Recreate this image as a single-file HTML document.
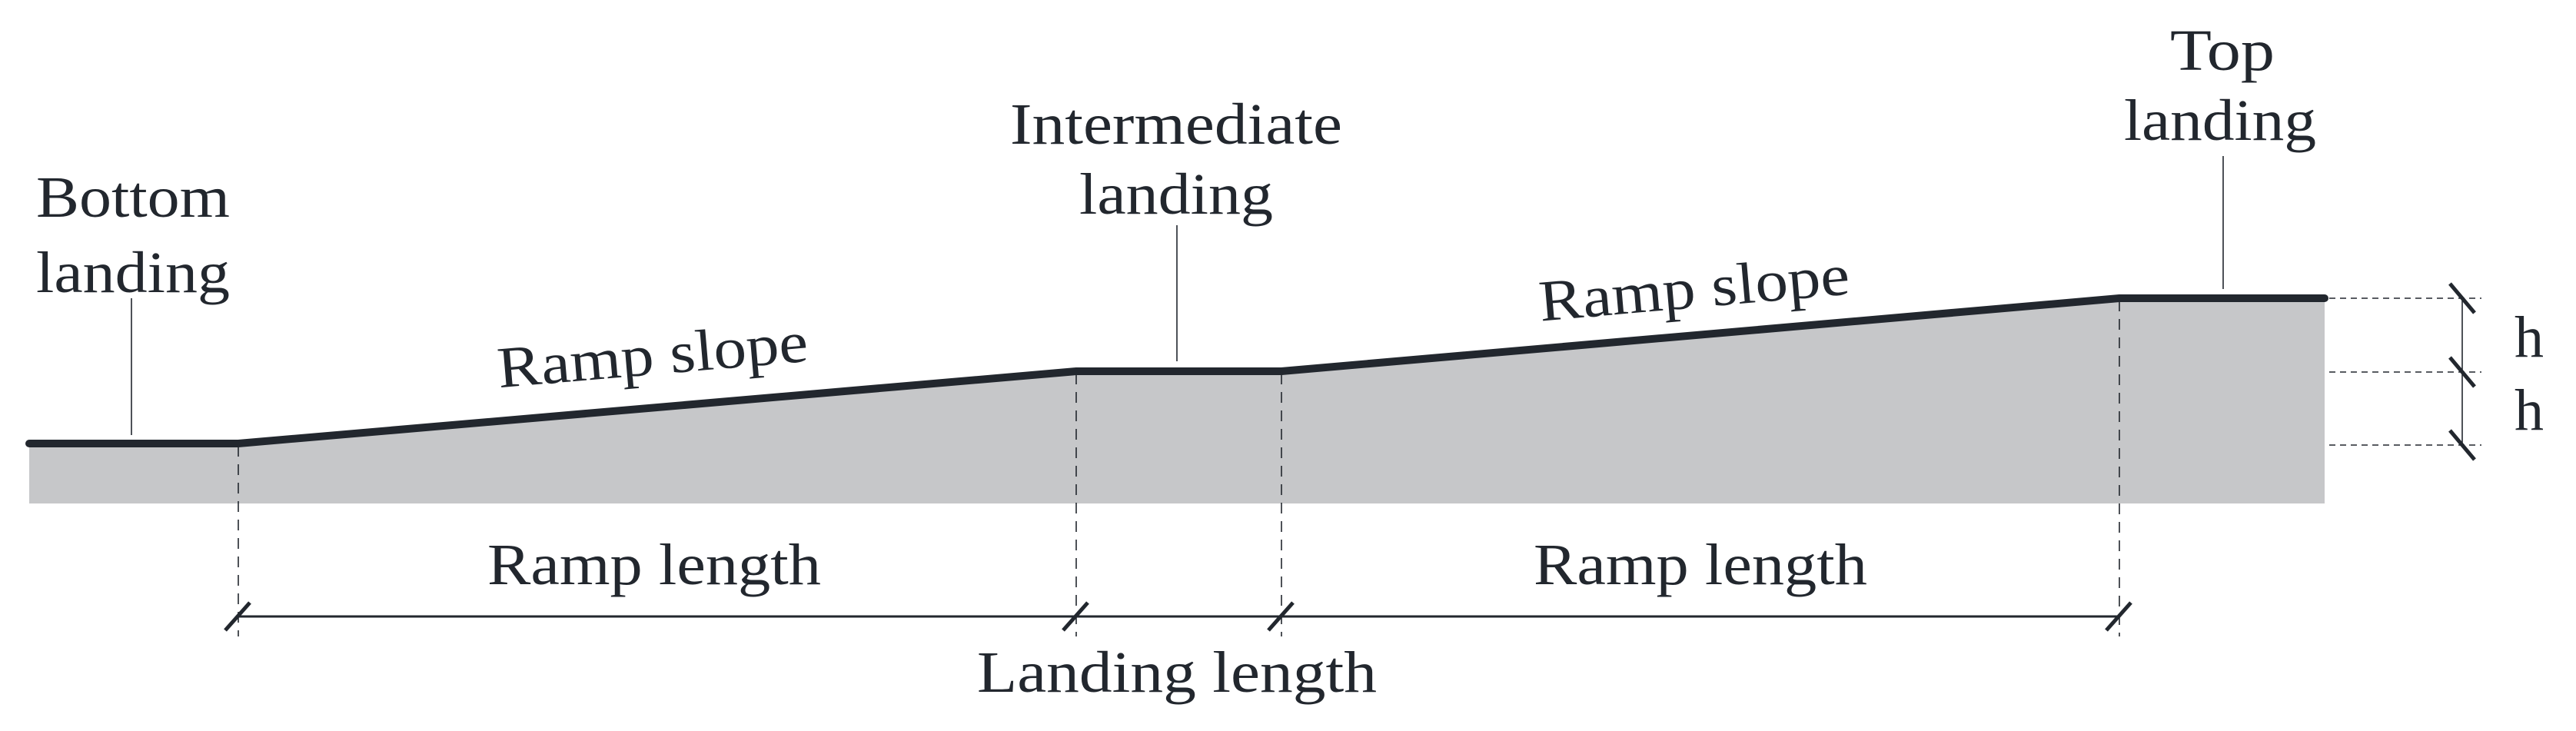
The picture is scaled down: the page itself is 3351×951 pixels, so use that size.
<!DOCTYPE html>
<html><head><meta charset="utf-8"><style>
html,body{margin:0;padding:0;background:#fff}
svg{display:block}
text{font-family:"Liberation Serif",serif;font-size:76px;fill:#22272e}
</style></head><body>
<svg width="3351" height="951" viewBox="0 0 3351 951" xmlns="http://www.w3.org/2000/svg">
<polygon points="38,577 310,577 1400,483 1667,483 2757,388 3024,388 3024,655 38,655" fill="#c6c7c9"/>
<g stroke="#22272e" stroke-width="1.6" stroke-dasharray="14,10" fill="none">
<line x1="310" y1="580" x2="310" y2="828"/>
<line x1="1400" y1="486" x2="1400" y2="828"/>
<line x1="1667" y1="486" x2="1667" y2="828"/>
<line x1="2757" y1="391" x2="2757" y2="828"/>
</g>
<g stroke="#22272e" stroke-width="1.6" stroke-dasharray="8,6" fill="none">
<line x1="3030" y1="388" x2="3228" y2="388"/>
<line x1="3030" y1="484" x2="3228" y2="484"/>
<line x1="3030" y1="579" x2="3228" y2="579"/>
</g>
<polyline points="38,577 310,577 1400,483 1667,483 2757,388 3024,388" fill="none" stroke="#22272e" stroke-width="10" stroke-linecap="round" stroke-linejoin="round"/>
<g stroke="#22272e" stroke-width="1.6">
<line x1="171" y1="388" x2="171" y2="566"/>
<line x1="1531" y1="293" x2="1531" y2="470"/>
<line x1="2892" y1="203" x2="2892" y2="376"/>
<line x1="3203" y1="388" x2="3203" y2="579"/>
</g>
<line x1="310" y1="802" x2="2757" y2="802" stroke="#22272e" stroke-width="3"/>
<g stroke="#22272e" stroke-width="5">
<line x1="293" y1="820" x2="325" y2="784"/>
<line x1="1383" y1="820" x2="1415" y2="784"/>
<line x1="1650" y1="820" x2="1682" y2="784"/>
<line x1="2740" y1="820" x2="2772" y2="784"/>
<line x1="3187" y1="369" x2="3219" y2="407"/>
<line x1="3187" y1="465" x2="3219" y2="503"/>
<line x1="3187" y1="560" x2="3219" y2="598"/>
</g>
<text x="173" y="282" text-anchor="middle" textLength="252" lengthAdjust="spacingAndGlyphs">Bottom</text>
<text x="173" y="380" text-anchor="middle" textLength="252" lengthAdjust="spacingAndGlyphs">landing</text>
<text x="1530" y="187" text-anchor="middle" textLength="432" lengthAdjust="spacingAndGlyphs">Intermediate</text>
<text x="1530" y="278" text-anchor="middle" textLength="252" lengthAdjust="spacingAndGlyphs">landing</text>
<text x="2891" y="91" text-anchor="middle" textLength="136" lengthAdjust="spacingAndGlyphs">Top</text>
<text x="2888" y="182" text-anchor="middle" textLength="250" lengthAdjust="spacingAndGlyphs">landing</text>
<text x="851" y="487" text-anchor="middle" textLength="405" lengthAdjust="spacingAndGlyphs" transform="rotate(-4.9 851 487)">Ramp slope</text>
<text x="2206" y="400" text-anchor="middle" textLength="405" lengthAdjust="spacingAndGlyphs" transform="rotate(-5 2206 400)">Ramp slope</text>
<text x="851" y="760" text-anchor="middle" textLength="434" lengthAdjust="spacingAndGlyphs">Ramp length</text>
<text x="2212" y="760" text-anchor="middle" textLength="434" lengthAdjust="spacingAndGlyphs">Ramp length</text>
<text x="1531" y="900" text-anchor="middle" textLength="520" lengthAdjust="spacingAndGlyphs">Landing length</text>
<text x="3290" y="464" text-anchor="middle">h</text>
<text x="3290" y="559" text-anchor="middle">h</text>
</svg>
</body></html>
